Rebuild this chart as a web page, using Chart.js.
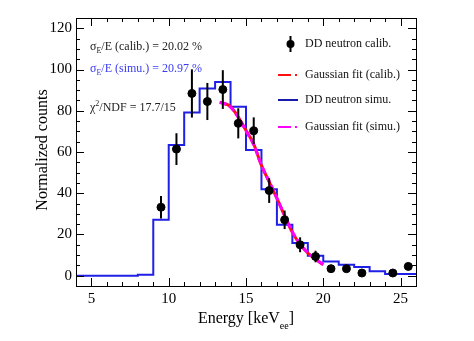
<!DOCTYPE html>
<html>
<head>
<meta charset="utf-8">
<script src="https://cdn.jsdelivr.net/npm/chart.js@4.4.1/dist/chart.umd.min.js"></script>
<style>
  html, body { margin: 0; padding: 0; background: #fff; }
  #wrap { width: 474px; height: 341px; }
</style>
</head>
<body>
<div id="wrap"><canvas id="myChart" width="474" height="341"></canvas></div>
<script>
// measured data (DD neutron calibration)
let calibX = [9.5, 10.5, 11.5, 12.5, 13.5, 14.5, 15.5, 16.5, 17.5, 18.5, 19.5, 20.5, 21.5, 22.5, 24.5, 25.5];
let calibY = [33.2, 61.4, 88.4, 84.5, 90.3, 73.9, 70.3, 41.3, 27.1, 15.0, 9.3, 3.4, 3.4, 1.3, 1.3, 4.5];
let calibErr = [5.5, 7.7, 11.7, 9.0, 9.4, 7.3, 6.5, 6.0, 4.5, 3.6, 2.8, 1.2, 1.2, 1.0, 1.0, 1.5];

// simulation histogram, 1 keV bins from 4 to 26
let simuBinLow = [4, 5, 6, 7, 8, 9, 10, 11, 12, 13, 14, 15, 16, 17, 18, 19, 20, 21, 22, 23, 24, 25];
let simuCounts = [0, 0, 0, 0, 0.5, 27.1, 63.4, 79.2, 90.8, 94.0, 81.9, 61.0, 41.9, 24.7, 15.8, 9.7, 6.9, 5.3, 4.2, 2.1, 0.8, 0.8];

// gaussian fits
let fitX = [13.3, 13.5, 14.0, 14.5, 15.0, 15.5, 16.0, 16.5, 17.0, 17.5, 18.0, 18.5, 19.0, 19.5, 20.0];
let fitCalibY = [84.2, 83.8, 82.0, 77.0, 70.5, 63.8, 53.5, 45.5, 37.5, 29.0, 21.0, 15.2, 11.0, 8.0, 5.3];
let fitSimuY = [84.0, 83.7, 81.8, 76.8, 70.3, 63.5, 53.6, 45.7, 37.6, 29.2, 21.2, 15.4, 11.2, 8.1, 5.4];

let xTicks = [5, 10, 15, 20, 25];
let yTicks = [0, 20, 40, 60, 80, 100, 120];

let fontName = "'Liberation Serif', 'DejaVu Serif', serif";
let histColor = '#1f1fe6';

let calibData = calibX.map((x, i) => ({ x: x, y: calibY[i] }));
let simuData = simuBinLow.map((x, i) => ({ x: x, y: simuCounts[i] }));
simuData.push({ x: 26, y: simuCounts[simuCounts.length - 1] });
let fitCalibData = fitX.map((x, i) => ({ x: x, y: fitCalibY[i] }));
let fitSimuData = fitX.map((x, i) => ({ x: x, y: fitSimuY[i] }));

// error bars, drawn just before the points
const errorBars = {
  id: 'errorBars',
  beforeDatasetDraw(chart, args) {
    if (args.index !== 0) return;
    const ctx = chart.ctx, xs = chart.scales.x, ys = chart.scales.y;
    ctx.save();
    ctx.strokeStyle = '#000';
    ctx.lineWidth = 2;
    calibX.forEach((x, i) => {
      const px = xs.getPixelForValue(x);
      ctx.beginPath();
      ctx.moveTo(px, ys.getPixelForValue(calibY[i] - calibErr[i]));
      ctx.lineTo(px, ys.getPixelForValue(calibY[i] + calibErr[i]));
      ctx.stroke();
    });
    ctx.restore();
  }
};

// ROOT style frame, ticks, titles, legend and text
const decorations = {
  id: 'decorations',
  afterDraw(chart) {
    const ctx = chart.ctx, a = chart.chartArea, xs = chart.scales.x, ys = chart.scales.y;
    ctx.save();
    ctx.strokeStyle = '#000';
    ctx.lineWidth = 1;
    ctx.strokeRect(Math.round(a.left) + 0.5, Math.round(a.top) + 0.5, Math.round(a.right - a.left), Math.round(a.bottom - a.top));

    ctx.beginPath();
    for (let v = 4; v <= 26; v++) {
      const px = Math.round(xs.getPixelForValue(v)) + 0.5;
      const len = v % 5 === 0 ? 8 : 4;
      ctx.moveTo(px, a.bottom); ctx.lineTo(px, a.bottom - len);
      ctx.moveTo(px, a.top); ctx.lineTo(px, a.top + len);
    }
    for (let v = -5; v <= 125; v += 5) {
      const py = Math.round(ys.getPixelForValue(v)) + 0.5;
      const len = v % 20 === 0 ? 8 : 4;
      ctx.moveTo(a.left, py); ctx.lineTo(a.left + len, py);
      ctx.moveTo(a.right, py); ctx.lineTo(a.right - len, py);
    }
    ctx.stroke();

    // axis titles
    ctx.fillStyle = '#000';
    ctx.font = '16px ' + fontName;
    ctx.textBaseline = 'alphabetic';
    const t1 = 'Energy [keV', t2 = 'ee', t3 = ']';
    ctx.font = '16px ' + fontName;
    const w1 = ctx.measureText(t1).width, w3 = ctx.measureText(t3).width;
    ctx.font = '10px ' + fontName;
    const w2 = ctx.measureText(t2).width;
    let sx = (a.left + a.right) / 2 - (w1 + w2 + w3) / 2;
    ctx.font = '16px ' + fontName;
    ctx.textAlign = 'left';
    ctx.fillText(t1, sx, 323);
    ctx.font = '10px ' + fontName;
    ctx.fillText(t2, sx + w1, 329);
    ctx.font = '16px ' + fontName;
    ctx.fillText(t3, sx + w1 + w2, 323);

    ctx.save();
    ctx.translate(47, 150);
    ctx.rotate(-Math.PI / 2);
    ctx.textAlign = 'center';
    ctx.fillText('Normalized counts', 0, 0);
    ctx.restore();

    // annotations
    function sigmaLine(label, y, color) {
      ctx.fillStyle = color;
      ctx.textAlign = 'left';
      ctx.font = '12px ' + fontName;
      let x = 90;
      ctx.fillText('\u03c3', x, y); x += ctx.measureText('\u03c3').width;
      ctx.font = '8px ' + fontName;
      ctx.fillText('E', x, y + 3); x += ctx.measureText('E').width;
      ctx.font = '12px ' + fontName;
      ctx.fillText(label, x, y);
    }
    sigmaLine('/E (calib.) = 20.02 %', 50, '#222');
    sigmaLine('/E (simu.) = 20.97 %', 72, '#3b3bf0');
    ctx.fillStyle = '#222';
    ctx.font = '12px ' + fontName;
    let cx = 90;
    ctx.fillText('\u03c7', cx, 111); cx += ctx.measureText('\u03c7').width;
    ctx.font = '8px ' + fontName;
    ctx.fillText('2', cx, 106); cx += ctx.measureText('2').width;
    ctx.font = '12px ' + fontName;
    ctx.fillText('/NDF = 17.7/15', cx, 111);

    // legend
    const lx = 278, tx = 305;
    const rows = [44, 75, 100, 127];
    ctx.fillStyle = '#000';
    ctx.strokeStyle = '#000';
    ctx.lineWidth = 2;
    ctx.beginPath();
    ctx.moveTo(290.5, rows[0] - 8); ctx.lineTo(290.5, rows[0] + 8);
    ctx.stroke();
    ctx.beginPath();
    ctx.arc(290.5, rows[0], 4, 0, Math.PI * 2);
    ctx.fill();

    function dashSample(y, color) {
      ctx.strokeStyle = color;
      ctx.lineWidth = 2;
      ctx.beginPath();
      ctx.moveTo(lx, y); ctx.lineTo(lx + 13, y);
      ctx.moveTo(lx + 17, y); ctx.lineTo(lx + 19, y);
      ctx.stroke();
    }
    dashSample(rows[1], '#ff1010');
    ctx.strokeStyle = '#1a1aa8';
    ctx.beginPath();
    ctx.moveTo(lx, rows[2]); ctx.lineTo(lx + 20, rows[2]);
    ctx.stroke();
    dashSample(rows[3], '#ff00ff');

    ctx.fillStyle = '#111';
    ctx.font = '12px ' + fontName;
    ctx.textAlign = 'left';
    ctx.textBaseline = 'middle';
    ctx.fillText('DD neutron calib.', tx, rows[0]);
    ctx.fillText('Gaussian fit (calib.)', tx, rows[1]);
    ctx.fillText('DD neutron simu.', tx, rows[2]);
    ctx.fillText('Gaussian fit (simu.)', tx, rows[3]);
    ctx.restore();
  }
};

let chart = new Chart(document.getElementById('myChart'), {
  type: 'scatter',
  data: {
    datasets: [{
      label: 'DD neutron calib.',
      data: calibData,
      backgroundColor: '#000',
      borderColor: '#000',
      pointRadius: 4,
      pointHoverRadius: 4,
      order: 1
    }, {
      type: 'line',
      label: 'DD neutron simu.',
      data: simuData,
      stepped: 'before',
      borderColor: histColor,
      borderWidth: 2,
      pointRadius: 0,
      fill: false,
      order: 4
    }, {
      type: 'line',
      label: 'Gaussian fit (calib.)',
      data: fitCalibData,
      borderColor: '#ff1010',
      borderWidth: 3,
      pointRadius: 0,
      cubicInterpolationMode: 'monotone',
      fill: false,
      order: 3
    }, {
      type: 'line',
      label: 'Gaussian fit (simu.)',
      data: fitSimuData,
      borderColor: '#ff00ff',
      borderWidth: 3,
      borderDash: [7, 3],
      pointRadius: 0,
      cubicInterpolationMode: 'monotone',
      fill: false,
      order: 2
    }]
  },
  options: {
    responsive: false,
    animation: false,
    layout: { padding: { left: 0, right: 58, top: 18, bottom: 0 } },
    plugins: {
      legend: { display: false },
      tooltip: { enabled: false }
    },
    scales: {
      x: {
        type: 'linear',
        min: 4,
        max: 26,
        grid: { display: false, drawTicks: false },
        border: { display: false },
        afterBuildTicks: (s) => { s.ticks = xTicks.map(v => ({ value: v })); },
        afterFit: (s) => { s.height = 55; },
        ticks: {
          padding: 4,
          color: '#000',
          font: { family: fontName, size: 15 },
          maxRotation: 0
        }
      },
      y: {
        min: -5,
        max: 125,
        grid: { display: false, drawTicks: false },
        border: { display: false },
        afterBuildTicks: (s) => { s.ticks = yTicks.map(v => ({ value: v })); },
        afterFit: (s) => { s.width = 76; },
        ticks: {
          padding: 4,
          color: '#000',
          font: { family: fontName, size: 15 }
        }
      }
    }
  },
  plugins: [errorBars, decorations]
});
</script>
</body>
</html>
